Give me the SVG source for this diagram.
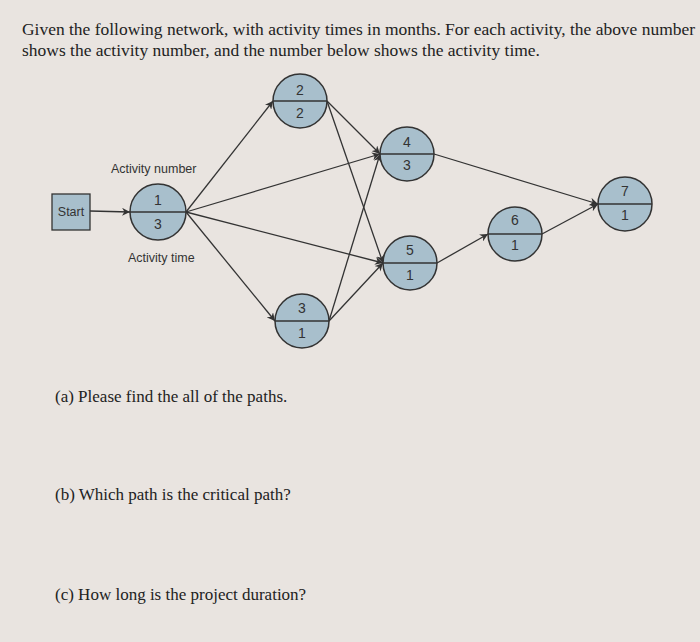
<svg xmlns="http://www.w3.org/2000/svg" width="700" height="642" viewBox="0 0 700 642">
<style>
.q{font-family:"Liberation Serif",serif;font-size:17px;fill:#222}
.n circle{fill:#a8bfcc;stroke:#333;stroke-width:1.5}
.n line{stroke:#333;stroke-width:1.5}
.n text{font-family:"Liberation Sans",sans-serif;font-size:14px;fill:#333;text-anchor:middle}
.lbl{font-family:"Liberation Sans",sans-serif;font-size:12.5px;fill:#333}
#edges line{stroke:#333;stroke-width:1.3;marker-end:url(#a)}
</style>
<defs><marker id="a" viewBox="0 0 10 10" refX="10" refY="5" markerWidth="8" markerHeight="8" orient="auto" markerUnits="userSpaceOnUse"><path d="M0,0L10,5L0,10L3,5z" fill="#333"/></marker></defs>
<rect width="700" height="642" fill="#e9e4e0"/>
<text class="q" x="22" y="35" textLength="673" lengthAdjust="spacingAndGlyphs">Given the following network, with activity times in months. For each activity, the above number</text>
<text class="q" x="22" y="56" textLength="518" lengthAdjust="spacingAndGlyphs">shows the activity number, and the number below shows the activity time.</text>
<g id="edges">
<line x1="90" y1="211" x2="130" y2="212"/>
<line x1="186" y1="212" x2="273" y2="101"/>
<line x1="186" y1="212" x2="380" y2="154"/>
<line x1="186" y1="212" x2="383" y2="263"/>
<line x1="186" y1="212" x2="275" y2="321"/>
<line x1="327" y1="101" x2="380" y2="154"/>
<line x1="327" y1="101" x2="383" y2="263"/>
<line x1="329" y1="321" x2="380" y2="154"/>
<line x1="329" y1="321" x2="383" y2="263"/>
<line x1="434" y1="154" x2="598" y2="204"/>
<line x1="437" y1="263" x2="488" y2="234"/>
<line x1="542" y1="234" x2="598" y2="204"/>
</g>
<g id="start"><rect x="52" y="194" width="38" height="36" fill="#a8bfcc" stroke="#333" stroke-width="1.3"/><text x="71" y="216" class="lbl" font-size="14" text-anchor="middle">Start</text></g>
<g id="n1" class="n"><circle cx="158" cy="212" r="28"/><line x1="130" y1="212" x2="186" y2="212"/><text x="158" y="205">1</text><text x="158" y="229">3</text></g>
<g id="n2" class="n"><circle cx="300" cy="101" r="27"/><line x1="273" y1="101" x2="327" y2="101"/><text x="300" y="95">2</text><text x="300" y="118">2</text></g>
<g id="n3" class="n"><circle cx="302" cy="321" r="27"/><line x1="275" y1="321" x2="329" y2="321"/><text x="302" y="313">3</text><text x="302" y="338">1</text></g>
<g id="n4" class="n"><circle cx="407" cy="154" r="27"/><line x1="380" y1="154" x2="434" y2="154"/><text x="407" y="147">4</text><text x="407" y="170">3</text></g>
<g id="n5" class="n"><circle cx="410" cy="263" r="27"/><line x1="383" y1="263" x2="437" y2="263"/><text x="410" y="255">5</text><text x="410" y="280">1</text></g>
<g id="n6" class="n"><circle cx="515" cy="234" r="27"/><line x1="488" y1="234" x2="542" y2="234"/><text x="515" y="225">6</text><text x="515" y="250">1</text></g>
<g id="n7" class="n"><circle cx="625" cy="204" r="27"/><line x1="598" y1="204" x2="652" y2="204"/><text x="625" y="196">7</text><text x="625" y="220">1</text></g>
<text class="lbl" x="111" y="173">Activity number</text>
<text class="lbl" x="128" y="262">Activity time</text>
<text class="q" x="55" y="402">(a) Please find the all of the paths.</text>
<text class="q" x="55" y="500">(b) Which path is the critical path?</text>
<text class="q" x="55" y="600">(c) How long is the project duration?</text>
</svg>
